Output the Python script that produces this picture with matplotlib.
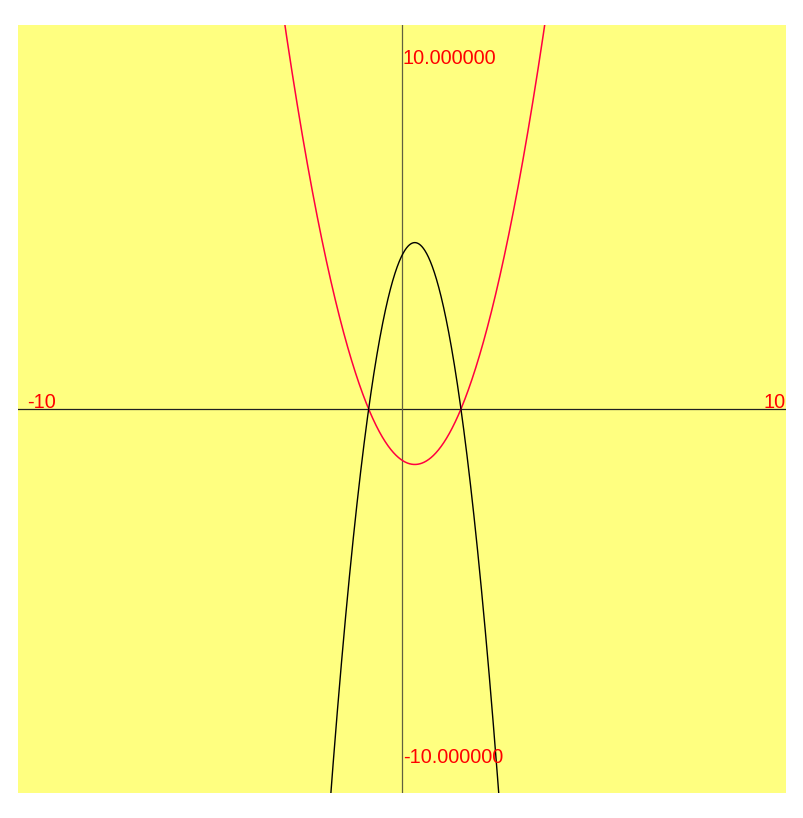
import numpy as np
import matplotlib
matplotlib.use("Agg")
import matplotlib.pyplot as plt

# Polynomial coefficients (highest degree first)
black_coeffs = [-3.0, 2.0, 4.0]
red_coeffs = [1.0, -2.0 / 3.0, -4.0 / 3.0]
x_range = [-10, 10]
y_range = [-10, 10]
x_labels = ["-10", "10"]
y_labels = ["10.000000", "-10.000000"]

plt.rcParams['font.family'] = ['Liberation Sans', 'DejaVu Sans']

W, H = 804, 818
fig = plt.figure(figsize=(W / 100, H / 100), dpi=100)
fig.patch.set_facecolor("white")
ax = fig.add_axes([18 / W, 25 / H, 768 / W, 768 / H])
ax.set_facecolor("#FFFF80")
ax.set_xlim(*x_range)
ax.set_ylim(*y_range)
for s in ax.spines.values():
    s.set_visible(False)
ax.set_xticks([])
ax.set_yticks([])

# axes lines
ax.axhline(0, color="#202020", lw=0.9, zorder=1)
ax.axvline(-0.01, color="#606040", lw=0.9, zorder=1)

xs = np.linspace(x_range[0], x_range[1], 4000)
ax.plot(xs, np.polyval(black_coeffs, xs), color="black", lw=1.0, zorder=3)
ax.plot(xs, np.polyval(red_coeffs, xs), color="#FF0040", lw=1.1, zorder=2)

red = "#FF0000"
fs = 14.3
ax.text(x_range[0] + 0.24, 0.02, x_labels[0], color=red, fontsize=fs,
        ha="left", va="baseline", zorder=4)
ax.text(x_range[1], 0.02, x_labels[1], color=red, fontsize=fs,
        ha="right", va="baseline", zorder=4)
ax.text(0.02, 8.98, y_labels[0], color=red, fontsize=fs,
        ha="left", va="baseline", zorder=4)
ax.text(0.02, -9.22, y_labels[1], color=red, fontsize=fs,
        ha="left", va="baseline", zorder=4)

fig.savefig("out.png", dpi=100, facecolor=fig.get_facecolor())
